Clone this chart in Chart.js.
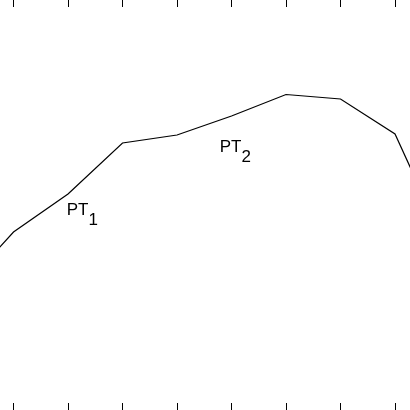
<!DOCTYPE html>
<html lang="en">
<head>
    <meta charset="UTF-8">
    <title>PT curve</title>
    <script src="https://cdn.jsdelivr.net/npm/chart.js"></script>
    <style>
        html, body {
            margin: 0;
            padding: 0;
            background: #fff;
        }
        #wrap {
            width: 410px;
            height: 410px;
        }
    </style>
</head>
<body>
    <div id="wrap"><canvas id="chart"></canvas></div>

    <script>
        // curve samples (x = tick index, y = relative level); first/last run off the frame
        const xValues = [-1, 0, 1, 2, 3, 4, 5, 6, 7, 8];
        const yValues = [118, 178, 216, 267, 275, 294, 315.5, 311, 276, 157];
        const tickValues = [0, 1, 2, 3, 4, 5, 6, 7];
        const annotations = [
            { text: 'PT', sub: '1', x: 0.976, y: 195.5 },
            { text: 'PT', sub: '2', x: 3.783, y: 258.3 }
        ];

        const xMin = -0.248, xMax = 7.275;
        const yMin = 7, yMax = 403;

        const points = xValues.map((x, i) => ({ x: x, y: yValues[i] }));

        // axis with tick marks only, no labels
        function tickAxis(position) {
            return {
                type: 'linear',
                position: position,
                min: xMin,
                max: xMax,
                afterBuildTicks: function(scale) {
                    scale.ticks = tickValues.map(v => ({ value: v }));
                },
                grid: {
                    drawOnChartArea: false,
                    drawTicks: true,
                    tickLength: 7,
                    color: '#000',
                    lineWidth: 1
                },
                border: { display: false },
                ticks: { display: false }
            };
        }

        const labelPlugin = {
            id: 'ptLabels',
            afterDatasetsDraw(chart) {
                const ctx = chart.ctx;
                const xs = chart.scales.x, ys = chart.scales.y;
                ctx.save();
                ctx.font = '17px "Liberation Sans", Arial, sans-serif';
                ctx.fillStyle = '#000';
                ctx.textBaseline = 'alphabetic';
                annotations.forEach(a => {
                    const px = xs.getPixelForValue(a.x);
                    const py = ys.getPixelForValue(a.y);
                    ctx.fillText(a.text, px, py);
                    const w = ctx.measureText(a.text).width;
                    ctx.fillText(a.sub, px + w, py + 10);
                });
                ctx.restore();
            }
        };

        new Chart(document.getElementById('chart').getContext('2d'), {
            type: 'line',
            data: {
                datasets: [{
                    data: points,
                    xAxisID: 'x',
                    yAxisID: 'y',
                    borderColor: '#000',
                    borderWidth: 1.2,
                    pointRadius: 0,
                    tension: 0,
                    fill: false
                }]
            },
            options: {
                responsive: true,
                maintainAspectRatio: false,
                animation: false,
                layout: { padding: 0 },
                plugins: {
                    legend: { display: false },
                    tooltip: { enabled: false }
                },
                scales: {
                    x: tickAxis('bottom'),
                    x2: tickAxis('top'),
                    y: { display: false, min: yMin, max: yMax }
                }
            },
            plugins: [labelPlugin]
        });
    </script>
</body>
</html>
